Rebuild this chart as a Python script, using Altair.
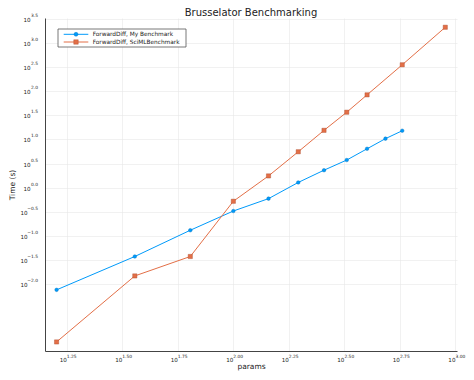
import altair as alt
import pandas as pd

# ---- data ----
series_names = ["ForwardDiff, My Benchmark", "ForwardDiff, SciMLBenchmark"]
series_colors = ["#009AFA", "#E36F47"]

my_params = [16, 36, 64, 100, 144, 196, 256, 324, 400, 484, 576]
my_time = [0.0075, 0.037, 0.13, 0.326, 0.59, 1.28, 2.30, 3.74, 6.41, 10.4, 15.2]

sciml_params = [16, 36, 64, 100, 144, 196, 256, 324, 400, 576, 900]
sciml_time = [0.00062, 0.0146, 0.037, 0.52, 1.75, 5.56, 15.5, 36.9, 84.7, 357, 2150]

x_tick_exps = [1.25, 1.50, 1.75, 2.00, 2.25, 2.50, 2.75, 3.00]
x_tick_text = ["1.25", "1.50", "1.75", "2.00", "2.25", "2.50", "2.75", "3.00"]
y_tick_exps = [-2.0, -1.5, -1.0, -0.5, 0.0, 0.5, 1.0, 1.5, 2.0, 2.5, 3.0, 3.5]
y_tick_text = ["\u22122.0", "\u22121.5", "\u22121.0", "\u22120.5", "0.0", "0.5",
               "1.0", "1.5", "2.0", "2.5", "3.0", "3.5"]

title_text = "Brusselator Benchmarking"
x_title = "params"
y_title = "Time (s)"

x_domain_exp = [1.152, 3.007]
y_domain_exp = [-3.396, 3.525]

# ---- tables ----
df = pd.concat([
    pd.DataFrame({"series": series_names[0], "params": my_params, "time": my_time}),
    pd.DataFrame({"series": series_names[1], "params": sciml_params, "time": sciml_time}),
], ignore_index=True)

xt = pd.DataFrame({"params": [10 ** e for e in x_tick_exps], "txt": x_tick_text})
yt = pd.DataFrame({"time": [10 ** e for e in y_tick_exps], "txt": y_tick_text})

W, H = 412, 333
FONT = "DejaVu Sans"
TXT = "#222222"

xscale = alt.Scale(type="log", domain=[10 ** x_domain_exp[0], 10 ** x_domain_exp[1]], nice=False)
yscale = alt.Scale(type="log", domain=[10 ** y_domain_exp[0], 10 ** y_domain_exp[1]], nice=False)

xaxis = alt.Axis(values=[10 ** e for e in x_tick_exps], labels=False, ticks=False,
                 grid=True, title=x_title, titlePadding=11, titleFontSize=7.5,
                 titleFont=FONT, titleFontWeight="normal", titleColor=TXT,
                 domainColor="#444444", gridColor="#e8e8e8", gridWidth=0.6)
yaxis = alt.Axis(values=[10 ** e for e in y_tick_exps], labels=False, ticks=False,
                 grid=True, title=y_title, titlePadding=29, titleFontSize=7.5,
                 titleFont=FONT, titleFontWeight="normal", titleColor=TXT,
                 domainColor="#444444", gridColor="#e8e8e8", gridWidth=0.6)

X = alt.X("params:Q", scale=xscale, axis=xaxis)
Y = alt.Y("time:Q", scale=yscale, axis=yaxis)

base = alt.Chart(df)
color_scale = alt.Scale(domain=series_names, range=series_colors)

lines = base.mark_line(strokeWidth=1).encode(
    x=X, y=Y,
    color=alt.Color("series:N", scale=color_scale, legend=None),
)

blue_pts = base.transform_filter(alt.datum.series == series_names[0]).mark_circle(
    size=13, color=series_colors[0], opacity=1, stroke="#0070b8", strokeWidth=0.4
).encode(x=X, y=Y)

orange_pts = base.transform_filter(alt.datum.series == series_names[1]).mark_square(
    size=18, color=series_colors[1], opacity=1, stroke="#a84a2a", strokeWidth=0.4
).encode(x=X, y=Y)

# ---- legend box (inside plot, top-left) ----
one = pd.DataFrame({"k": [0]})
leg_box = alt.Chart(one).mark_rect(fill="white", stroke="#555555", strokeWidth=0.8).encode(
    x=alt.value(13), x2=alt.value(141), y=alt.value(11), y2=alt.value(29)
)
legend_parts = [leg_box]
row_y = [16.3, 24.0]
for i, (name, col) in enumerate(zip(series_names, series_colors)):
    ldf = pd.DataFrame({"label": [name]})
    legend_parts.append(alt.Chart(ldf).mark_rule(strokeWidth=1, color=col).encode(
        x=alt.value(18.7), x2=alt.value(43.3), y=alt.value(row_y[i])))
    if i == 0:
        mk = alt.Chart(ldf).mark_circle(size=16, color=col, opacity=1, stroke="#0070b8", strokeWidth=0.4)
    else:
        mk = alt.Chart(ldf).mark_square(size=20, color=col, opacity=1, stroke="#a84a2a", strokeWidth=0.4)
    legend_parts.append(mk.encode(x=alt.value(31.0), y=alt.value(row_y[i])))
    legend_parts.append(alt.Chart(ldf).mark_text(
        align="left", baseline="middle", fontSize=5.8, font=FONT, color=TXT
    ).encode(x=alt.value(47.7), y=alt.value(row_y[i]), text="label:N"))

# ---- tick labels 10^e drawn as text ----
ybase = alt.Chart(yt)
y_ten_pos = ybase.transform_filter("datum.time > 0.9").mark_text(
    text="10", align="right", baseline="middle", dx=-14.5, dy=1, fontSize=5.6, font=FONT, color=TXT
).encode(x=alt.value(0), y=Y)
y_ten_neg = ybase.transform_filter("datum.time < 0.9").mark_text(
    text="10", align="right", baseline="middle", dx=-17.5, dy=1, fontSize=5.6, font=FONT, color=TXT
).encode(x=alt.value(0), y=Y)
y_exp = ybase.mark_text(
    align="right", baseline="middle", dx=-7, dy=-3, fontSize=4.4, font=FONT, color=TXT
).encode(x=alt.value(0), y=Y, text="txt:N")

xbase = alt.Chart(xt)
x_ten = xbase.mark_text(
    text="10", align="right", baseline="middle", dx=0, dy=9, fontSize=5.6, font=FONT, color=TXT
).encode(x=X, y=alt.value(H))
x_exp = xbase.mark_text(
    align="left", baseline="middle", dx=0, dy=5.5, fontSize=4.4, font=FONT, color=TXT
).encode(x=X, y=alt.value(H), text="txt:N")

title_mark = alt.Chart(pd.DataFrame({"t": [title_text]})).mark_text(
    align="center", baseline="alphabetic", fontSize=10, font=FONT, color=TXT
).encode(x=alt.value(W / 2), y=alt.value(-2.5), text="t:N")

chart = alt.layer(
    lines, blue_pts, orange_pts, y_ten_pos, y_ten_neg, y_exp, x_ten, x_exp, title_mark,
    *legend_parts
).properties(
    width=W, height=H,
    background="white",
    padding={"left": 37, "top": 10, "right": 9, "bottom": 21},
    autosize=alt.AutoSizeParams(type="none"),
).configure_view(stroke=None)

chart.save("out.html", embed_options={"renderer": "svg", "actions": False})
